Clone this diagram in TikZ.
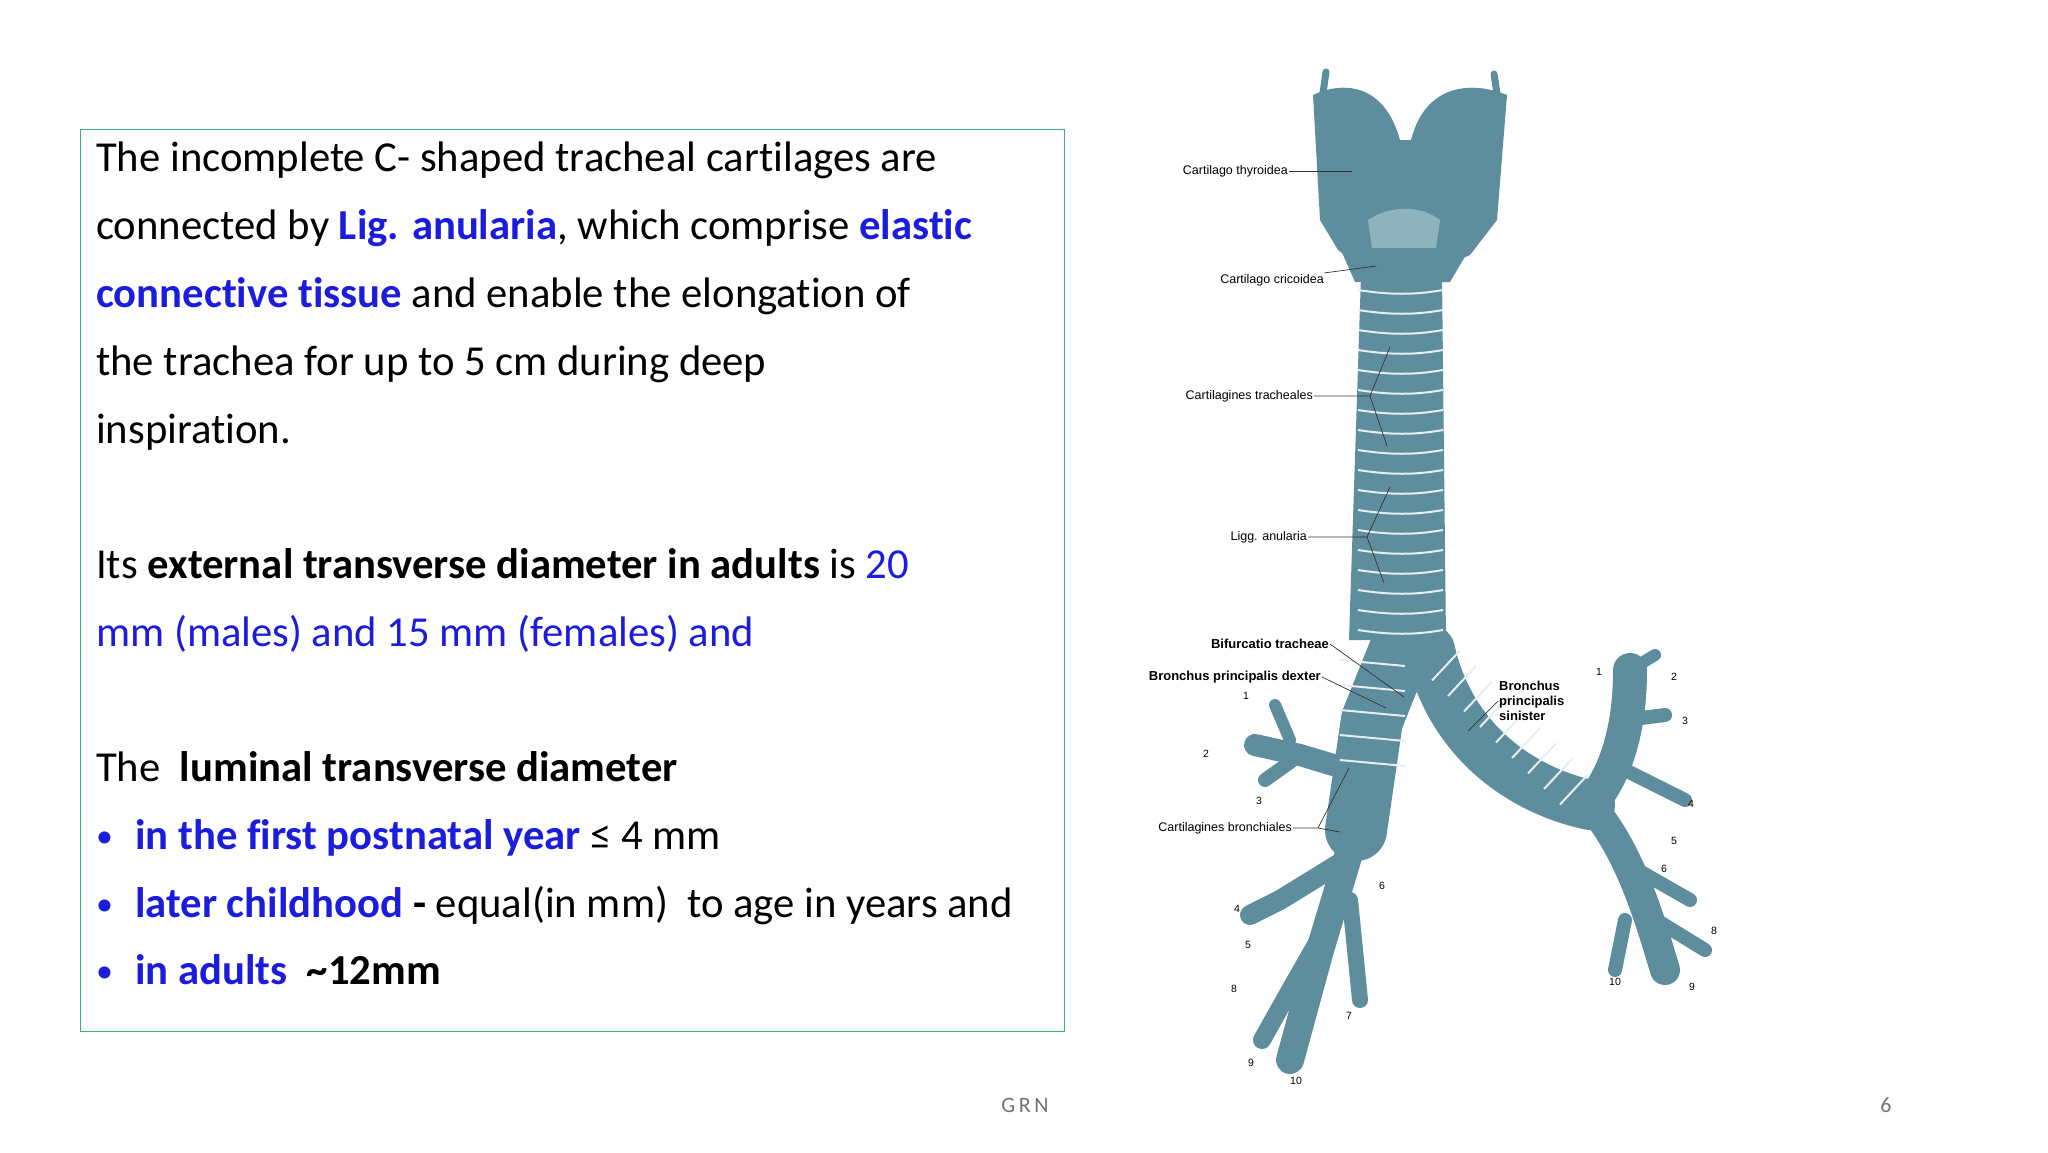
\documentclass[tikz,border=0pt]{standalone}
\usepackage{fontspec}
\usetikzlibrary{calc}
\setmainfont[Ligatures=CommonOff]{Carlito}
\newfontfamily\lab{Liberation Sans}
\begin{document}
\begin{tikzpicture}[x=1pt,y=-1pt,
  ln/.style={anchor=base west,inner sep=0pt,font=\fontsize{42.7}{50}\selectfont},
  lb/.style={font=\lab\fontsize{12.5}{14}\selectfont,inner sep=1pt},
  lbb/.style={font=\lab\bfseries\fontsize{13}{14}\selectfont,inner sep=1pt},
  num/.style={font=\lab\fontsize{10.5}{12}\selectfont,inner sep=0pt},
  lead/.style={draw=black!80,line width=0.7pt},
  tube/.style={draw=tubec,line cap=round,line join=round},
  ring/.style={draw=white!85!tubec,line width=2pt}]
\definecolor{bl}{HTML}{1C1CDC}
\definecolor{tubec}{HTML}{5E8E9E}
\definecolor{tubel}{HTML}{8DB3BF}
\definecolor{gbox}{HTML}{3BAF7A}
\useasboundingbox (0,0) rectangle (2048,1152);
\fill[white] (0,0) rectangle (2048,1152);
\newcommand\bb[1]{\textbf{\color{bl}#1}}
\newcommand\bul{{\color{bl}\fontsize{34}{40}\selectfont•}}
% text box
\node[draw=gbox,line width=1.2pt,minimum width=984pt,minimum height=902pt,anchor=north west,inner sep=0pt] (box) at (80,129) {};
\node[ln] (l1) at (96,171) {The incomplete C- shaped tracheal cartilages are};
\node[ln] (l2) at (96,239) {connected by \bb{Lig. anularia}, which comprise \bb{elastic}};
\node[ln] (l3) at (96,307) {\bb{connective tissue} and enable the elongation of};
\node[ln] (l4) at (96,375) {the trachea for up to 5 cm during deep};
\node[ln] (l5) at (96,443) {inspiration.};
\node[ln] (l6) at (96,578) {Its \textbf{external transverse diameter in adults} is {\color{bl}20}};
\node[ln] (l7) at (96,646) {\color{bl}mm (males) and 15 mm (females) and};
\node[ln] (l8) at (96,781) {The \ \textbf{luminal transverse diameter}};
\node[ln] (b1) at (96,847) {\bul};
\node[ln] (l9) at (135,849) {\bb{in the first postnatal year} ≤ 4 mm};
\node[ln] (b2) at (96,915) {\bul};
\node[ln] (l10) at (135,917) {\bb{later childhood} \textbf{-} equal(in mm) \ to age in years and};
\node[ln] (b3) at (96,982) {\bul};
\node[ln] (l11) at (135,984) {\bb{in adults} \ \textbf{\textasciitilde12mm}};
% footer
\node[font=\fontsize{22}{24}\selectfont,text=black!55] (grn) at (1025,1105) {G\,R\,N};
\node[font=\fontsize{22}{24}\selectfont,text=black!55] (pg) at (1886,1105) {6};
% ---- illustration ----
% right bronchus
\draw[tube,line width=62pt] (1404,640) -- (1372,720) -- (1356,830);
\draw[tube,line width=28pt] (1356,830) -- (1320,950) -- (1290,1060);
\draw[tube,line width=20pt] (1345,860) -- (1280,900) -- (1250,915);
\draw[tube,line width=18pt] (1330,920) -- (1290,990) -- (1262,1040);
\draw[tube,line width=16pt] (1350,900) -- (1360,1000);
\draw[tube,line width=22pt] (1350,770) -- (1300,755) -- (1255,745);
\draw[tube,line width=14pt] (1300,755) -- (1265,780);
\draw[tube,line width=12pt] (1290,740) -- (1275,705);
% left bronchus
\draw[tube,line width=50pt] (1430,650) .. controls (1450,740) and (1520,790) .. (1590,805);
\draw[tube,line width=34pt] (1590,805) .. controls (1620,770) and (1630,720) .. (1630,670);
\draw[tube,line width=30pt] (1590,805) .. controls (1630,850) and (1650,920) .. (1665,970);
\draw[tube,line width=14pt] (1625,720) -- (1665,715);
\draw[tube,line width=14pt] (1625,770) -- (1685,800);
\draw[tube,line width=14pt] (1620,860) -- (1690,900);
\draw[tube,line width=14pt] (1640,910) -- (1705,950);
\draw[tube,line width=12pt] (1630,670) -- (1655,655);
\draw[tube,line width=14pt] (1625,920) -- (1615,970);
\foreach \y in {660,685,710,735,760}{\draw[ring] (1340,\y) -- (1405,\y+6);}
\foreach \t in {0.1,0.2,...,0.9}{\draw[ring] ($(1430,650)!\t!(1590,805)$) +(-14,15) -- +(14,-15);}
% trachea
\fill[tubec] (1361,275) -- (1442,275) -- (1446,640) -- (1349,640) -- cycle;
\foreach \y in {290,310,...,630}{\draw[ring] (1358,\y) .. controls (1390,\y+5) and (1415,\y+5) .. (1443,\y);}
% thyroid & cricoid
\fill[tubec] (1313,95) .. controls (1345,80) and (1385,85) .. (1400,140)
  -- (1411,140) .. controls (1425,85) and (1470,80) .. (1507,95)
  -- (1497,220) -- (1470,255) -- (1440,268) -- (1362,268) -- (1338,250) -- (1320,220) -- cycle;
\fill[tubel] (1368,220) .. controls (1390,205) and (1420,205) .. (1440,220) -- (1435,255) -- (1373,255) -- cycle;
\draw[tubec,line width=7pt,line cap=round] (1322,100) -- (1326,72);
\draw[tubec,line width=7pt,line cap=round] (1498,100) -- (1494,74);
\fill[tubec] (1340,248) -- (1470,248) -- (1450,282) -- (1355,282) -- cycle;
% labels
\node[lb,anchor=east] (ct) at (1289,171) {Cartilago thyroidea};
\coordinate (ct1) at (1352,171);
\draw[lead] (ct) -- (ct1);
\node[lb,anchor=east] (cc) at (1325,280) {Cartilago cricoidea};
\coordinate (cc1) at (1376,266);
\draw[lead] (cc) -- (cc1);
\node[lb,anchor=east] (tr) at (1314,396) {Cartilagines tracheales};
\coordinate (tr0) at (1370,396);\coordinate (tr1) at (1390,347);\coordinate (tr2) at (1387,446);
\draw[lead] (tr) -- (tr0) -- (tr1) (tr0) -- (tr2);
\node[lb,anchor=east] (la) at (1308,537) {Ligg. anularia};
\coordinate (la0) at (1367,537);\coordinate (la1) at (1390,487);\coordinate (la2) at (1384,583);
\draw[lead] (la) -- (la0) -- (la1) (la0) -- (la2);
\node[lbb,anchor=east] (bt) at (1330,644) {Bifurcatio tracheae};
\coordinate (bt1) at (1404,697);
\draw[lead] (bt.east) -- (bt1);
\node[lbb,anchor=east] (bd) at (1322,677) {Bronchus principalis dexter};
\coordinate (bd1) at (1386,708);
\draw[lead] (bd.east) -- (bd1);
\node[lbb,anchor=west,align=left,font=\lab\bfseries\fontsize{13}{15}\selectfont] (bs) at (1498,701) {Bronchus\\principalis\\sinister};
\coordinate (bs1) at (1468,731);
\draw[lead] (bs.west) -- (bs1);
\node[lb,anchor=east] (cb) at (1293,828) {Cartilagines bronchiales};
\coordinate (cb0) at (1318,828);\coordinate (cb1) at (1349,768);\coordinate (cb2) at (1340,832);
\draw[lead] (cb) -- (cb0) -- (cb1) (cb0) -- (cb2);
% numbers
\foreach \n/\x/\y in {1/1246/696,2/1206/754,3/1259/801,6/1382/886,4/1237/909,5/1248/945,8/1234/989,7/1349/1016,9/1251/1063,10/1296/1081}
  {\node[num] (r\n) at (\x,\y) {\n};}
\foreach \n/\x/\y in {1/1599/672,2/1674/677,3/1685/721,4/1691/804,5/1674/841,6/1664/869,8/1714/931,10/1615/982,9/1692/987}
  {\node[num] (s\n) at (\x,\y) {\n};}
\end{tikzpicture}
\end{document}
